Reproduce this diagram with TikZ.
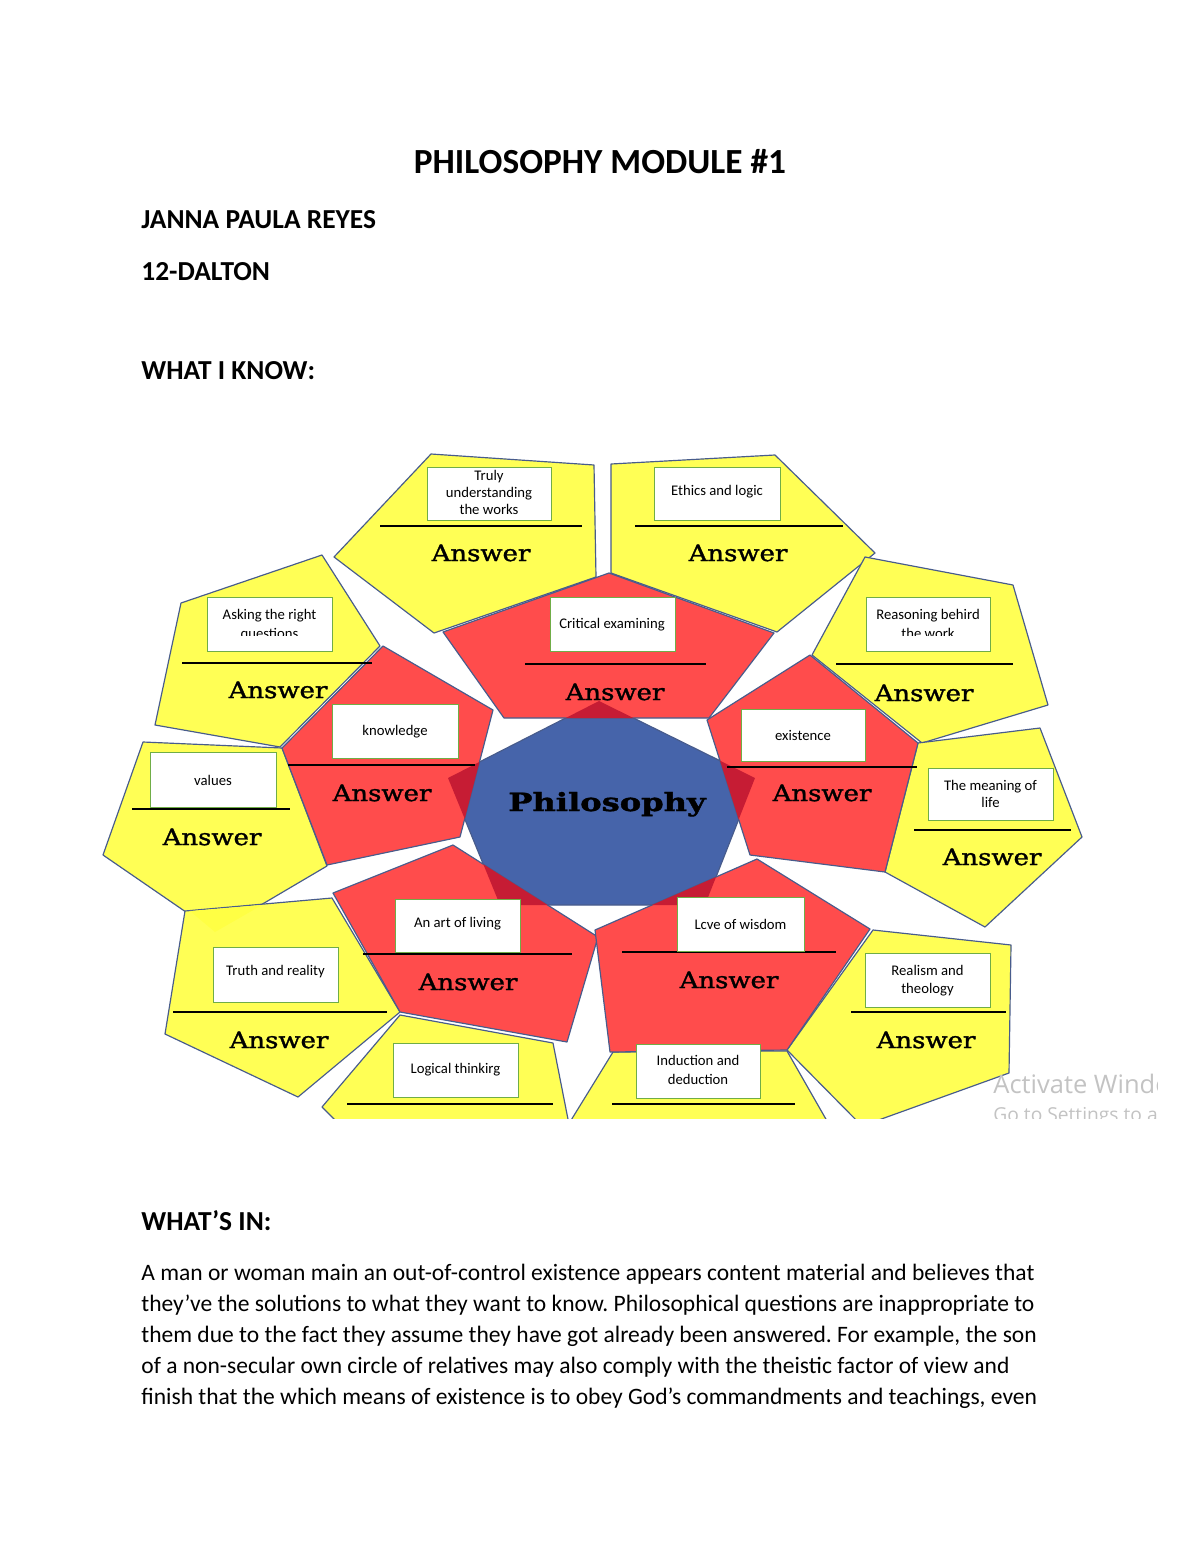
\documentclass[tikz,border=0pt]{standalone}
\usepackage{fontspec}
\setmainfont{Carlito}
\newfontfamily\ansfont[FakeBold=1.3]{DejaVu Serif}
\newfontfamily\wmfont{Open Sans}
\usetikzlibrary{fit}
\definecolor{yel}{RGB}{255,255,85}
\definecolor{redp}{RGB}{255,76,76}
\definecolor{darkr}{RGB}{198,28,52}
\definecolor{bluep}{RGB}{70,100,170}
\definecolor{edgec}{RGB}{72,92,140}
\definecolor{boxg}{RGB}{112,173,71}
\definecolor{wmgray}{RGB}{195,195,195}
\frenchspacing
\begin{document}
\begin{tikzpicture}[x=0.51pt,y={(0pt,-0.51pt)},
  ypent/.style={fill=yel,draw=edgec,line width=0.6pt,line join=round},
  rpent/.style={fill=redp,draw=edgec,line width=0.6pt,line join=round},
  bpent/.style={fill=bluep,draw=edgec,line width=0.6pt,line join=round},
  lblbox/.style={draw=boxg,fill=white,line width=0.5pt,inner sep=0pt},
  lbltext/.style={inner sep=0pt,align=center,font=\fontsize{7.5}{9}\selectfont},
  lblline/.style={inner sep=0pt,anchor=base,font=\fontsize{7.5}{9}\selectfont},
  ansline/.style={draw=black,line width=1.4pt},
  ans/.style={inner sep=0pt,font=\ansfont\fontsize{11.5}{13}\selectfont},
  head/.style={inner sep=0pt,anchor=base west,font=\bfseries\fontsize{14}{17}\selectfont},
  body/.style={inner sep=0pt,anchor=base west,font=\fontsize{12}{14}\selectfont},
  wm/.style={inner sep=0pt,anchor=base west,text=wmgray}]
\useasboundingbox (0,0) rectangle (1200,1553);
\fill[white] (0,0) rectangle (1200,1553);
% polygons
\def\pYa{(431,454)--(594,465)--(596,577)--(434,633)--(334,557)--cycle}
\def\pYb{(611,464)--(775,455)--(875,553)--(777,632)--(611,573)--cycle}
\def\pYc{(322,555)--(380,646)--(280,747)--(155,725)--(181,603)--cycle}
\def\pYd{(143,742)--(282,748)--(327,866)--(215,932)--(103,855)--cycle}
\def\pYe{(865,557)--(1013,585)--(1048,705)--(922,743)--(812,655)--cycle}
\def\pYf{(918,743)--(1040,728)--(1082,837)--(985,927)--(885,872)--cycle}
\def\pYg{(185,911)--(332,898)--(400,1012)--(298,1097)--(165,1034)--cycle}
\def\pYh{(400,1015)--(553,1043)--(578,1170)--(460,1245)--(322,1107)--cycle}
\def\pYi{(613,1052)--(787,1051)--(835,1135)--(700,1210)--(565,1130)--cycle}
\def\pYj{(873,930)--(1011,945)--(1009,1073)--(862,1126)--(787,1050)--cycle}
\def\pRa{(609,573)--(774,633)--(709,718)--(504,718)--(443,632)--cycle}
\def\pRb{(383,646)--(493,710)--(460,837)--(327,865)--(282,748)--cycle}
\def\pRc{(810,655)--(918,743)--(885,872)--(750,855)--(707,720)--cycle}
\def\pRd{(453,845)--(598,937)--(567,1042)--(400,1012)--(333,893)--cycle}
\def\pRe{(757,859)--(870,929)--(787,1050)--(610,1052)--(595,930)--cycle}
\def\pBl{(599,701)--(755,778)--(705,905)--(500,905)--(448,778)--cycle}
\begin{scope}
\clip (0,440) rectangle (1157,1118);
\path[ypent] \pYd;
\path[ypent] \pYg;
\fill[yel!80!yellow] (190,911) -- (262,905) -- (215,932) -- cycle;
\path[ypent] \pYa;
\path[ypent] \pYb;
\path[ypent] \pYc;
\path[ypent] \pYe;
\path[ypent] \pYf;
\path[ypent] \pYh;
\path[ypent] \pYi;
\path[ypent] \pYj;
\path[bpent] \pBl;
\path[rpent] \pRa;
\path[rpent] \pRb;
\path[rpent] \pRc;
\path[rpent] \pRd;
\path[rpent] \pRe;
\begin{scope}
\clip \pBl;
\fill[darkr] \pRa;
\fill[darkr] \pRb;
\fill[darkr] \pRc;
\fill[darkr] \pRd;
\fill[darkr] \pRe;
\end{scope}
% separator lines
\draw[ansline] (380,526) -- (582,526);
\draw[ansline] (635,526) -- (843,526);
\draw[ansline] (525,664) -- (706,664);
\draw[ansline] (182,663) -- (372,663);
\draw[ansline] (288,765) -- (475,765);
\draw[ansline] (132,809) -- (290,809);
\draw[ansline] (836,664) -- (1013,664);
\draw[ansline] (727,767) -- (917,767);
\draw[ansline] (914,830) -- (1071,830);
\draw[ansline] (173,1012) -- (387,1012);
\draw[ansline] (363,954) -- (572,954);
\draw[ansline] (622,952) -- (836,952);
\draw[ansline] (851,1012) -- (1006,1012);
\draw[ansline] (347,1104) -- (553,1104);
\draw[ansline] (612,1104) -- (795,1104);
% label boxes
\node[lblbox,fit={(427,467)(551,520)}] (bxa) {};
\node[lblbox,fit={(654,467)(780,520)}] (bxb) {};
\node[lblbox,fit={(550,597)(675,651)}] (bxc) {};
\node[lblbox,fit={(207,597)(332,651)}] (bxd) {};
\node[lblbox,fit={(332,704)(458,758)}] (bxe) {};
\node[lblbox,fit={(150,752)(276,807)}] (bxf) {};
\node[lblbox,fit={(866,597)(990,651)}] (bxg) {};
\node[lblbox,fit={(741,709)(865,761)}] (bxh) {};
\node[lblbox,fit={(928,768)(1053,820)}] (bxi) {};
\node[lblbox,fit={(213,947)(338,1002)}] (bxj) {};
\node[lblbox,fit={(395,899)(520,952)}] (bxk) {};
\node[lblbox,fit={(677,897)(804,951)}] (bxl) {};
\node[lblbox,fit={(865,953)(990,1007)}] (bxm) {};
\node[lblbox,fit={(393,1043)(518,1097)}] (bxn) {};
\node[lblbox,fit={(636,1044)(760,1098)}] (bxo) {};
\node[lblline] (txa1) at (489,480) {Truly};
\node[lblline] (txa2) at (489,497) {understanding};
\node[lblline] (txa3) at (489,514) {the works};
\node[lbltext] (txb) at (717,492) {Ethics and logic};
\node[lbltext] (txc) at (612,625) {Critical examining};
\begin{scope}
\clip (207,597) rectangle (332,635);
\node[lblline] (txd1) at (269.5,619) {Asking the right};
\node[lblline] (txd2) at (269.5,638) {questions};
\end{scope}
\node[lbltext] (txe) at (395,732) {knowledge};
\node[lbltext] (txf) at (213,780) {values};
\begin{scope}
\clip (866,597) rectangle (990,635);
\node[lblline] (txg1) at (928,619) {Reasoning behird};
\node[lblline] (txg2) at (928,638) {the work};
\end{scope}
\node[lbltext] (txh) at (803,735) {existence};
\node[lblline] (txi1) at (990.5,790) {The meaning of};
\node[lblline] (txi2) at (990.5,807) {life};
\node[lbltext] (txj) at (275.5,972) {Truth and reality};
\node[lbltext] (txk) at (457.5,924) {An art of living};
\node[lbltext] (txl) at (740.5,924) {Lcve of wisdom};
\node[lblline] (txm1) at (927.5,975) {Realism and};
\node[lblline] (txm2) at (927.5,993) {theology};
\node[lbltext] (txn) at (455.5,1070) {Logical thinkirg};
\node[lblline] (txo1) at (698,1065) {Induction and};
\node[lblline] (txo2) at (698,1084) {deduction};
% Answer labels
\node[ans] (aa) at (481,553) {\scalebox{1.15}[1]{Answer}};
\node[ans] (ab) at (738,553) {\scalebox{1.15}[1]{Answer}};
\node[ans] (ac) at (615,692) {\scalebox{1.15}[1]{Answer}};
\node[ans] (ad) at (278,690) {\scalebox{1.15}[1]{Answer}};
\node[ans] (ae) at (382,793) {\scalebox{1.15}[1]{Answer}};
\node[ans] (af) at (212,837) {\scalebox{1.15}[1]{Answer}};
\node[ans] (ag) at (924,693) {\scalebox{1.15}[1]{Answer}};
\node[ans] (ah) at (822,793) {\scalebox{1.15}[1]{Answer}};
\node[ans] (ai) at (992,857) {\scalebox{1.15}[1]{Answer}};
\node[ans] (aj) at (279,1040) {\scalebox{1.15}[1]{Answer}};
\node[ans] (ak) at (468,982) {\scalebox{1.15}[1]{Answer}};
\node[ans] (al) at (729,980) {\scalebox{1.15}[1]{Answer}};
\node[ans] (am) at (926,1040) {\scalebox{1.15}[1]{Answer}};
\node[inner sep=0pt,anchor=base,font=\ansfont\bfseries\fontsize{12.8}{14}\selectfont] (phil) at (607,811) {\scalebox{1.28}[1]{Philosophy}};
% watermark
\node[wm,font=\wmfont\fontsize{13}{15}\selectfont] (wma) at (993,1093) {Activate Windows};
\node[wm,font=\wmfont\fontsize{9.8}{11}\selectfont] (wmb) at (993,1121) {Go to Settings to activate Windows.};
\end{scope}
% text
\node[inner sep=0pt,anchor=base,font=\bfseries\fontsize{18}{21}\selectfont] (title) at (600,174) {PHILOSOPHY MODULE \#1};
\node[head] (hname) at (141,229) {JANNA PAULA REYES};
\node[head] (hsec) at (141,280) {12-DALTON};
\node[head] (hknow) at (141,379) {WHAT I KNOW:};
\node[head] (hin) at (141,1230) {WHAT’S IN:};
\node[body] (la) at (141,1280) {A man or woman main an out-of-control existence appears content material and believes that};
\node[body] (lb) at (141,1311) {they’ve the solutions to what they want to know. Philosophical questions are inappropriate to};
\node[body] (lc) at (141,1342) {them due to the fact they assume they have got already been answered. For example, the son};
\node[body] (ld) at (141,1373) {of a non-secular own circle of relatives may also comply with the theistic factor of view and};
\node[body] (le) at (141,1404) {finish that the which means of existence is to obey God’s commandments and teachings, even};
\end{tikzpicture}
\end{document}
